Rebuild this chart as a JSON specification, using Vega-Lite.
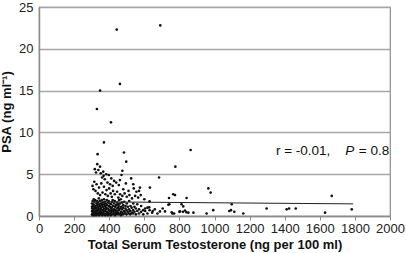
{
 "$schema": "https://vega.github.io/schema/vega-lite/v6.json",
 "autosize": {"type": "none"},
 "padding": {"left": 39, "top": 7, "right": 16, "bottom": 37},
 "width": 351,
 "height": 209,
 "config": {
  "view": {"stroke": "#8c8c8c", "strokeWidth": 1.2},
  "font": "Liberation Sans"
 },
 "encoding": {
  "x": {"field": "t", "type": "quantitative", "title": "Total Serum Testosterone (ng per 100 ml)",
   "scale": {"domain": [0, 2000], "nice": false},
   "axis": {"values": [0,200,400,600,800,1000,1200,1400,1600,1800,2000], "format": "d", "grid": false,
    "labelOverlap": false, "labelBound": false,
    "domainColor": "#8c8c8c", "domainWidth": 1.5, "tickColor": "#8c8c8c", "tickSize": 4,
    "labelFontSize": 13, "labelColor": "#222222", "labelPadding": 2, "labelFlush": false,
    "titleFontSize": 13, "titleFontWeight": "bold", "titleColor": "#111111", "titlePadding": 3}},
  "y": {"field": "psa", "type": "quantitative", "title": "PSA (ng ml⁻¹)",
   "scale": {"domain": [0, 25], "nice": false},
   "axis": {"values": [0,5,10,15,20,25], "grid": true, "gridColor": "#a6a6a6", "gridWidth": 1.5,
    "ticks": false, "domainColor": "#8c8c8c", "domainWidth": 1.5, "labelOverlap": false,
    "labelFontSize": 13, "labelColor": "#222222", "labelPadding": 6,
    "titleFontSize": 13, "titleFontWeight": "bold", "titleColor": "#111111", "titlePadding": 5}}
 },
 "layer": [
  {
   "data": {"values": [
    {"t":443,"psa":22.3},{"t":691,"psa":22.8},{"t":461,"psa":15.8},{"t":348,"psa":15.0},{"t":330,"psa":12.8},{"t":410,"psa":11.2},{"t":370,"psa":8.8},{"t":334,"psa":7.4},{"t":484,"psa":7.6},{"t":497,"psa":6.5},{"t":864,"psa":7.9},{"t":777,"psa":5.9},{"t":475,"psa":5.4},{"t":684,"psa":4.6},{"t":965,"psa":3.3},{"t":978,"psa":2.8},
    {"t":461,"psa":4.3},{"t":537,"psa":3.8},{"t":570,"psa":3.0},{"t":575,"psa":3.4},{"t":632,"psa":3.4},{"t":741,"psa":2.15},{"t":765,"psa":2.6},{"t":775,"psa":2.5},{"t":841,"psa":2.15},{"t":628,"psa":1.04},{"t":737,"psa":1.35},{"t":1098,"psa":1.4},{"t":1668,"psa":2.4},{"t":1297,"psa":0.9},{"t":1411,"psa":0.8},{"t":1425,"psa":0.9},{"t":1463,"psa":0.9},{"t":1782,"psa":0.8},{"t":1630,"psa":0.4},{"t":955,"psa":0.3},{"t":993,"psa":0.7},{"t":1084,"psa":0.6},{"t":1094,"psa":0.7},{"t":1113,"psa":0.5},{"t":1164,"psa":0.3},{"t":880,"psa":0.4},{"t":800,"psa":0.5},{"t":820,"psa":0.5},{"t":840,"psa":0.45},{"t":760,"psa":0.3},
    {"t":318,"psa":5.6},{"t":325,"psa":5.2},{"t":332,"psa":6.2},{"t":338,"psa":5.5},{"t":348,"psa":5.9},{"t":352,"psa":5.1},{"t":366,"psa":5.3},{"t":360,"psa":4.6},{"t":368,"psa":4.8},{"t":375,"psa":4.4},{"t":383,"psa":5.0},{"t":390,"psa":4.0},{"t":398,"psa":4.9},{"t":405,"psa":3.8},{"t":412,"psa":4.5},{"t":420,"psa":3.6},{"t":428,"psa":4.2},{"t":440,"psa":4.0},{"t":455,"psa":3.7},{"t":470,"psa":4.9},{"t":480,"psa":3.2},{"t":495,"psa":3.9},{"t":510,"psa":3.0},{"t":525,"psa":4.5},{"t":540,"psa":3.3},{"t":555,"psa":2.9},
    {"t":305,"psa":3.6},{"t":310,"psa":3.2},{"t":315,"psa":4.1},{"t":322,"psa":3.0},{"t":328,"psa":3.8},{"t":335,"psa":2.7},{"t":342,"psa":3.4},{"t":348,"psa":2.5},{"t":355,"psa":3.9},{"t":362,"psa":2.8},{"t":370,"psa":3.5},{"t":378,"psa":2.6},{"t":385,"psa":3.1},{"t":392,"psa":2.4},{"t":400,"psa":3.3},{"t":408,"psa":2.7},{"t":415,"psa":2.3},{"t":422,"psa":3.0},{"t":432,"psa":2.6},{"t":445,"psa":2.9},{"t":452,"psa":2.2},{"t":462,"psa":2.6},{"t":475,"psa":2.4},{"t":488,"psa":2.7},{"t":500,"psa":2.3},{"t":515,"psa":2.5},{"t":530,"psa":2.1},{"t":548,"psa":2.4},{"t":565,"psa":2.2},{"t":580,"psa":2.5},{"t":600,"psa":2.0},
    {"t":302,"psa":0.2},{"t":302,"psa":0.6},{"t":302,"psa":1.1},{"t":302,"psa":1.5},{"t":303,"psa":0.9},
    {"t":306,"psa":0.4},{"t":306,"psa":1.8},{"t":306,"psa":0.1},{"t":307,"psa":1.2},
    {"t":311,"psa":0.3},{"t":311,"psa":0.8},{"t":311,"psa":1.4},{"t":312,"psa":2.0},{"t":311,"psa":0.5},
    {"t":315,"psa":0.1},{"t":315,"psa":0.7},{"t":316,"psa":1.0},{"t":315,"psa":1.7},
    {"t":320,"psa":0.4},{"t":320,"psa":1.2},{"t":321,"psa":0.2},{"t":320,"psa":1.9},{"t":319,"psa":0.9},
    {"t":326,"psa":0.6},{"t":326,"psa":0.1},{"t":327,"psa":1.5},{"t":325,"psa":1.0},
    {"t":331,"psa":0.3},{"t":331,"psa":0.8},{"t":332,"psa":1.3},{"t":331,"psa":1.8},{"t":330,"psa":0.5},
    {"t":337,"psa":0.2},{"t":337,"psa":1.1},{"t":338,"psa":0.7},{"t":336,"psa":1.6},
    {"t":342,"psa":0.4},{"t":342,"psa":0.9},{"t":343,"psa":1.4},{"t":342,"psa":0.1},{"t":341,"psa":2.1},
    {"t":348,"psa":0.6},{"t":348,"psa":1.2},{"t":349,"psa":0.3},{"t":347,"psa":1.8},
    {"t":353,"psa":0.2},{"t":353,"psa":0.8},{"t":354,"psa":1.5},{"t":353,"psa":1.0},{"t":352,"psa":0.5},
    {"t":359,"psa":0.4},{"t":359,"psa":1.3},{"t":360,"psa":0.1},{"t":358,"psa":1.9},
    {"t":364,"psa":0.7},{"t":364,"psa":0.3},{"t":365,"psa":1.1},{"t":363,"psa":1.6},
    {"t":370,"psa":0.2},{"t":370,"psa":0.9},{"t":371,"psa":1.4},{"t":369,"psa":0.5},{"t":370,"psa":2.0},
    {"t":376,"psa":0.6},{"t":376,"psa":1.2},{"t":377,"psa":0.1},{"t":375,"psa":1.7},
    {"t":381,"psa":0.3},{"t":381,"psa":0.8},{"t":382,"psa":1.0},{"t":380,"psa":1.5},
    {"t":387,"psa":0.5},{"t":387,"psa":0.2},{"t":388,"psa":1.3},{"t":386,"psa":1.9},
    {"t":393,"psa":0.4},{"t":393,"psa":0.9},{"t":394,"psa":1.6},{"t":392,"psa":0.1},
    {"t":398,"psa":0.7},{"t":398,"psa":1.2},{"t":399,"psa":0.3},{"t":397,"psa":1.8},
    {"t":404,"psa":0.2},{"t":404,"psa":0.6},{"t":405,"psa":1.1},{"t":403,"psa":1.5},
    {"t":410,"psa":0.5},{"t":410,"psa":0.9},{"t":411,"psa":1.4},{"t":409,"psa":0.1},
    {"t":415,"psa":0.3},{"t":415,"psa":1.0},{"t":416,"psa":1.7},{"t":414,"psa":0.7},
    {"t":421,"psa":0.6},{"t":421,"psa":0.2},{"t":422,"psa":1.2},{"t":420,"psa":1.9},
    {"t":427,"psa":0.4},{"t":427,"psa":0.8},{"t":428,"psa":1.5},
    {"t":433,"psa":0.1},{"t":433,"psa":0.7},{"t":434,"psa":1.1},{"t":432,"psa":1.8},
    {"t":438,"psa":0.5},{"t":438,"psa":0.3},{"t":439,"psa":1.3},
    {"t":444,"psa":0.2},{"t":444,"psa":0.9},{"t":445,"psa":1.6},{"t":443,"psa":0.6},
    {"t":450,"psa":0.4},{"t":450,"psa":1.0},{"t":451,"psa":1.4},
    {"t":455,"psa":0.7},{"t":455,"psa":0.2},{"t":456,"psa":1.9},{"t":454,"psa":1.2},
    {"t":461,"psa":0.3},{"t":461,"psa":0.9},{"t":462,"psa":1.5},
    {"t":467,"psa":0.5},{"t":467,"psa":0.1},{"t":468,"psa":1.1},{"t":466,"psa":2.0},
    {"t":473,"psa":0.4},{"t":473,"psa":0.8},{"t":474,"psa":1.6},
    {"t":479,"psa":0.2},{"t":479,"psa":1.0},{"t":480,"psa":1.3},
    {"t":485,"psa":0.6},{"t":485,"psa":0.3},{"t":486,"psa":1.7},
    {"t":492,"psa":0.4},{"t":492,"psa":0.9},{"t":493,"psa":1.2},
    {"t":499,"psa":0.2},{"t":499,"psa":0.7},{"t":500,"psa":1.5},
    {"t":506,"psa":0.5},{"t":506,"psa":1.1},
    {"t":513,"psa":0.3},{"t":513,"psa":0.8},{"t":514,"psa":1.8},
    {"t":520,"psa":0.6},{"t":520,"psa":0.2},{"t":521,"psa":1.2},
    {"t":528,"psa":0.4},{"t":528,"psa":1.0},
    {"t":536,"psa":0.3},{"t":536,"psa":0.7},{"t":537,"psa":1.5},
    {"t":544,"psa":0.5},{"t":544,"psa":1.1},
    {"t":552,"psa":0.2},{"t":552,"psa":0.9},
    {"t":560,"psa":0.6},{"t":560,"psa":1.4},
    {"t":570,"psa":0.3},{"t":570,"psa":0.8},
    {"t":582,"psa":0.5},{"t":582,"psa":1.2},
    {"t":594,"psa":0.2},{"t":594,"psa":0.7},
    {"t":605,"psa":0.6},{"t":605,"psa":0.9},
    {"t":618,"psa":0.3},{"t":618,"psa":1.0},
    {"t":630,"psa":0.7},{"t":630,"psa":1.75},
    {"t":645,"psa":0.4},{"t":648,"psa":0.6},
    {"t":660,"psa":0.8},{"t":675,"psa":0.3},{"t":689,"psa":0.55},{"t":705,"psa":0.9},{"t":718,"psa":0.55},{"t":743,"psa":1.4},{"t":756,"psa":0.45},{"t":770,"psa":0.3},{"t":803,"psa":0.55},{"t":812,"psa":1.4},{"t":822,"psa":1.15},{"t":832,"psa":0.65},{"t":851,"psa":0.4}
   ]},
   "mark": {"type": "circle", "size": 7, "color": "#111111", "opacity": 1}
  },
  {
   "data": {"values": [{"t": 300, "psa": 1.7}, {"t": 1790, "psa": 1.45}]},
   "mark": {"type": "line", "color": "#222222", "strokeWidth": 1}
  },
  {
   "data": {"values": [{"t": 1350, "psa": 7.8, "label": "r = -0.01,"}]},
   "mark": {"type": "text", "align": "left", "baseline": "middle", "fontSize": 13.5, "color": "#111111"},
   "encoding": {"text": {"field": "label"}}
  },
  {
   "data": {"values": [{"t": 1745, "psa": 7.8, "label": "P"}]},
   "mark": {"type": "text", "align": "left", "baseline": "middle", "fontSize": 13.5, "fontStyle": "italic", "color": "#111111"},
   "encoding": {"text": {"field": "label"}}
  },
  {
   "data": {"values": [{"t": 1822, "psa": 7.8, "label": "= 0.8"}]},
   "mark": {"type": "text", "align": "left", "baseline": "middle", "fontSize": 13.5, "color": "#111111"},
   "encoding": {"text": {"field": "label"}}
  }
 ]
}
